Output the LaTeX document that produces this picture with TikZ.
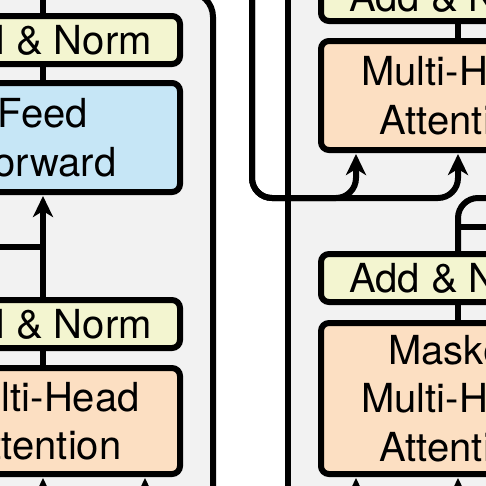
\documentclass[tikz,border=0pt]{standalone}
\usepackage{fontspec}
\setmainfont{TeX Gyre Heros}
\usetikzlibrary{arrows.meta}

\definecolor{panelgray}{HTML}{F2F2F2}
\definecolor{normyellow}{HTML}{F3F5D0}
\definecolor{ffblue}{HTML}{C6E6F6}
\definecolor{attnorange}{HTML}{FCDFC2}

\begin{document}
\begin{tikzpicture}[x=1pt,y=-1pt,line width=6pt,
    block/.style={draw, rounded corners=8pt, minimum width=274pt, inner sep=0pt,
        align=center, font=\fontsize{40}{48.5}\selectfont},
    norm/.style={block, fill=normyellow, minimum height=48pt},
    ffn/.style={block, fill=ffblue, minimum height=109pt},
    attn/.style={block, fill=attnorange},
    >={Stealth[length=21pt,width=20pt,inset=6pt]},
    flow/.style={->, shorten >=1pt}]
    \useasboundingbox (0,0) rectangle (486,485);
    \clip (0,0) rectangle (486,485);
    % panels
    \draw[fill=panelgray, rounded corners=25pt] (-300,-8) rectangle (213,700);
    \draw[fill=panelgray] (288,-100) rectangle (800,700);
    % encoder
    \node[norm] (enorm2) at (43,40) {Add \& Norm};
    \node[ffn] (eff) at (43,137.5) {Feed\\Forward};
    \node[norm] (enorm1) at (43,324) {Add \& Norm};
    \node[attn, minimum height=106pt] (emha) at (43,421) {Multi-Head\\Attention};
    % decoder
    \node[norm] (dnorm2) at (458,-3) {Add \& Norm};
    \node[attn, minimum height=109pt] (dmha) at (458,95.5) {Multi-Head\\Attention};
    \node[norm] (dnorm1) at (458,278) {Add \& Norm};
    \node[attn, minimum height=151pt] (dmask) at (458,398.5) {Masked\\Multi-Head\\Attention};
    % free ends
    \coordinate (etop) at (43,-20);
    \coordinate (eres) at (-20,247);
    \coordinate (ein1) at (43,520);
    \coordinate (ein2) at (145,520);
    \coordinate (encout) at (252,-20);
    \coordinate (dk) at (356,198);
    \coordinate (dv) at (458,198);
    \coordinate (dq) at (560,198);
    \coordinate (dres) at (520,227);
    \coordinate (din1) at (356,520);
    \coordinate (din2) at (458,520);
    % encoder links
    \draw (enorm2.north) -- (etop);
    \draw (enorm2.south) -- (eff.north);
    \draw[flow] (enorm1.north) -- (eff.south);
    \draw (enorm1.north |- eres) -- (eres);
    \draw (emha.north) -- (enorm1.south);
    \draw[flow] (ein1) -- (emha.south);
    \draw[flow] (ein2) -- (ein2 |- emha.south);
    % decoder links
    \draw (dnorm2.south) -- (dmha.north);
    \draw[flow, rounded corners=20pt] (encout) |- (dk) -- (dk |- dmha.south);
    \draw[flow, rounded corners=20pt] (encout) |- (dv) -- (dv |- dmha.south);
    \draw[flow, rounded corners=20pt] (dnorm1.north) |- (dq) -- (dq |- dmha.south);
    \draw (dres -| dnorm1.north) -- (dres);
    \draw (dmask.north) -- (dnorm1.south);
    \draw[flow] (din1) -- (din1 |- dmask.south);
    \draw[flow] (din2) -- (dmask.south);
\end{tikzpicture}
\end{document}
